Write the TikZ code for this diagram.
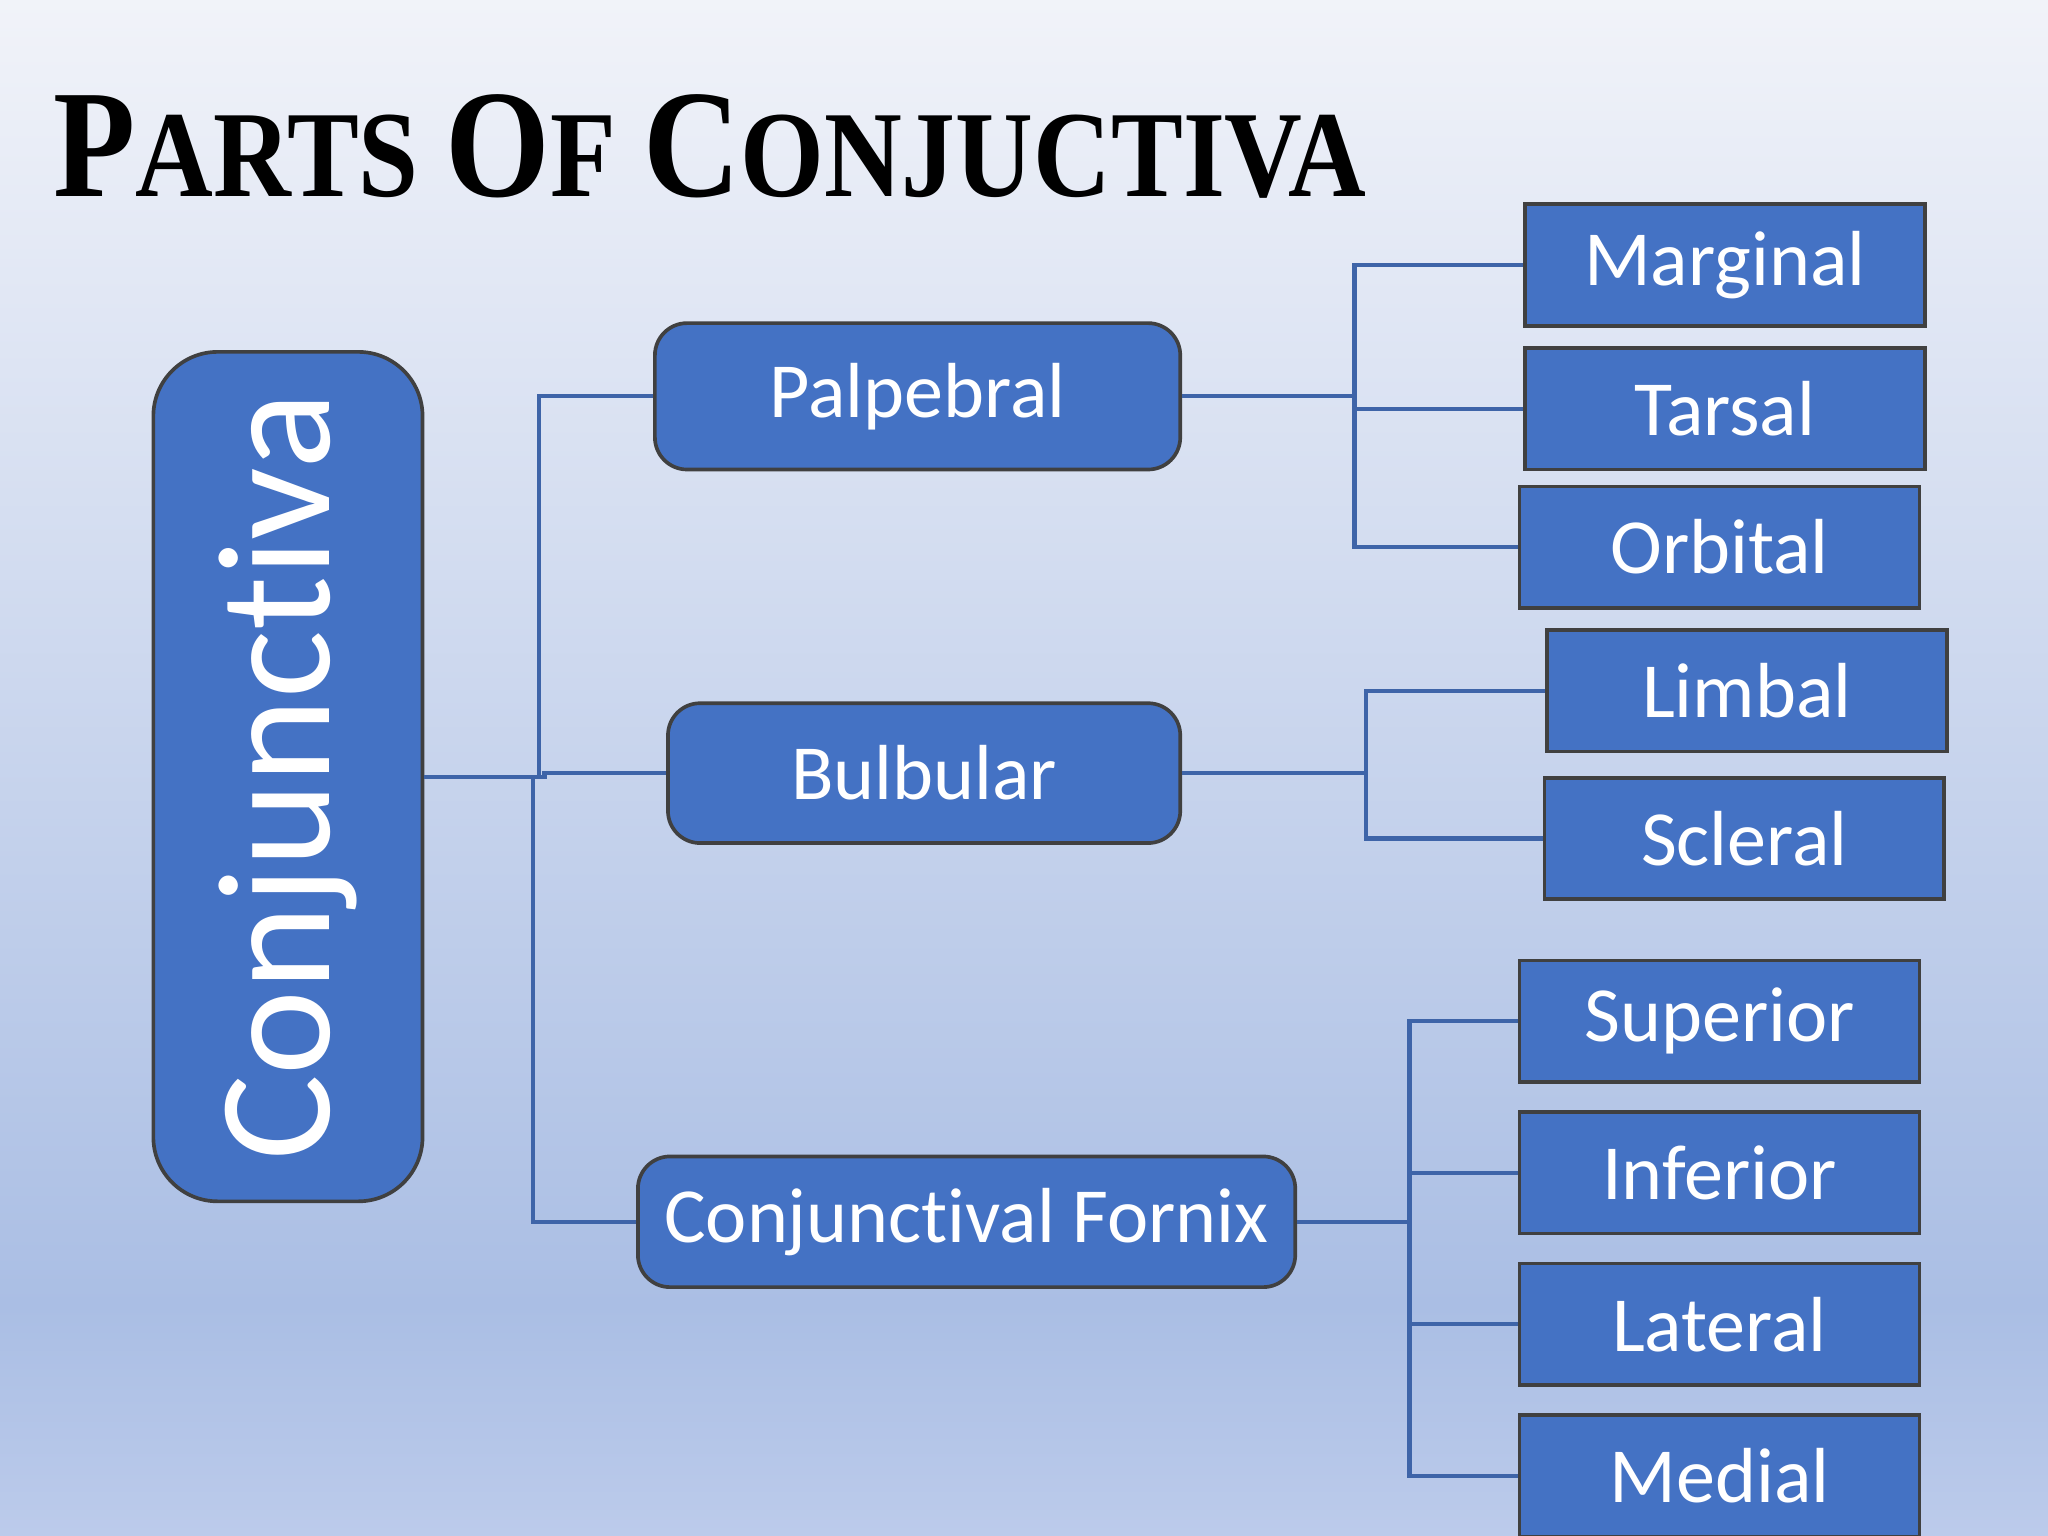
\documentclass[tikz,border=0pt]{standalone}
\usepackage{fontspec}
\setmainfont{Carlito}[Ligatures=NoCommon]
\newfontfamily\titlefont{Liberation Serif}
\usepackage{graphicx}
\begin{document}
\begin{tikzpicture}[x=0.01cm,y=-0.01cm,
  bx/.style={fill=boxblue,draw=black!75,line width=0.8pt,inner sep=0pt,anchor=north west,text=white,font=\fontsize{17}{20}\selectfont},
  rbx/.style={bx,rounded corners=7pt},
  conn/.style={draw=linkblue,line width=0.9pt}]
\definecolor{boxblue}{HTML}{4472C4}
\definecolor{linkblue}{HTML}{3E64A8}
\definecolor{bgtop}{HTML}{F1F3F9}
\definecolor{bgmid}{HTML}{AABEE4}
\definecolor{bgbot}{HTML}{BCCBEB}
\useasboundingbox (0,0) rectangle (1568,1176);
\shade[top color=bgtop,bottom color=bgmid] (0,0) rectangle (1568,1000);
\shade[top color=bgmid,bottom color=bgbot] (0,1000) rectangle (1568,1176);
% title
\node[anchor=west,text=black,inner sep=0pt] (title) at (40,112) {\titlefont\bfseries\resizebox{10.05cm}{0.78cm}{\fontsize{30}{30}\selectfont P\fontsize{24}{24}\selectfont ARTS \fontsize{30}{30}\selectfont O\fontsize{24}{24}\selectfont F \fontsize{30}{30}\selectfont C\fontsize{24}{24}\selectfont ONJUCTIVA}};
% main
\node[rbx,rounded corners=14pt,minimum width=2.06cm,minimum height=6.5cm] (c) at (116,268) {};
\node[text=white,rotate=90,font=\fontsize{35}{40}\selectfont] at (c.center) {Conjunctiva};
\node[rbx,minimum width=4.02cm,minimum height=1.12cm] (p) at (500,246) {Palpebral};
\node[rbx,minimum width=3.92cm,minimum height=1.07cm] (b) at (510,537) {Bulbular};
\node[rbx,minimum width=5.03cm,minimum height=1.0cm] (f) at (487,884) {Conjunctival Fornix};
\foreach \n/\t/\x/\y in {m/Marginal/1166/155,t/Tarsal/1166/265,o/Orbital/1162/371,l/Limbal/1183/481,s/Scleral/1181/594,su/Superior/1162/734,in/Inferior/1162/850,la/Lateral/1162/966,me/Medial/1162/1082}
  \node[bx,minimum width=3.06cm,minimum height=0.93cm] (\n) at (\x,\y) {\t};
% connectors
\draw[conn] (c.east) -- ++(88,0) |- (p.west);
\draw[conn] (c.east) -- ++(92,0) |- (b.west);
\draw[conn] (c.east) -- ++(83,0) |- (f.west);
\foreach \n in {m,t,o} \draw[conn] (p.east) -- ++(132,0) |- (\n.west);
\foreach \n in {l,s} \draw[conn] (b.east) -- ++(141,0) |- (\n.west);
\foreach \n in {su,in,la,me} \draw[conn] (f.east) -- ++(86,0) |- (\n.west);
\end{tikzpicture}
\end{document}
